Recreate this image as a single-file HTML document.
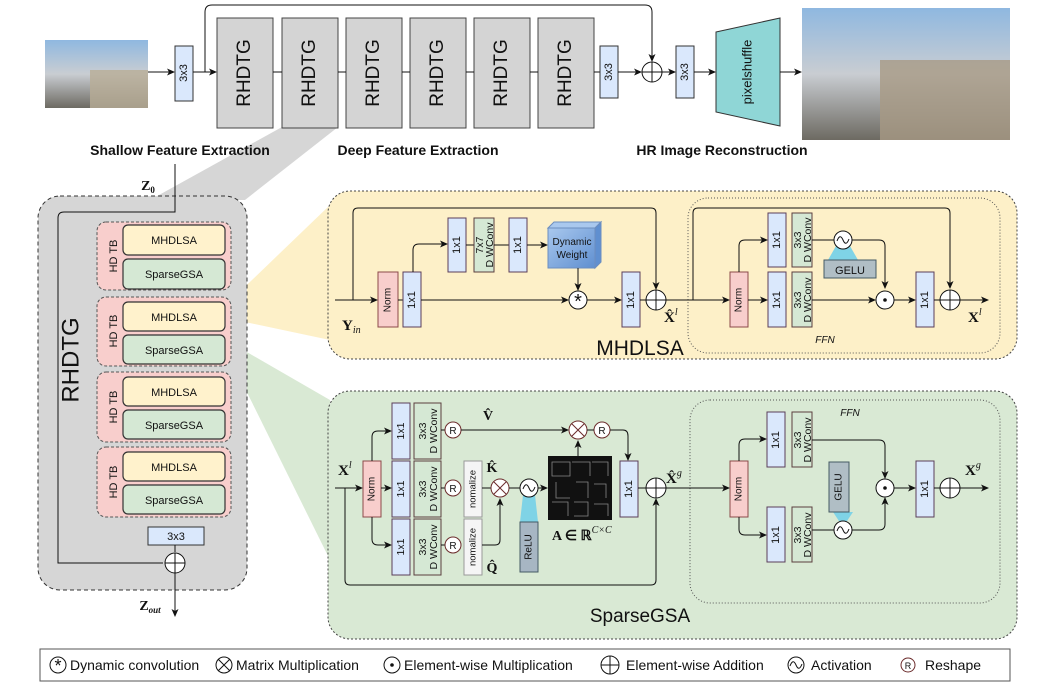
<!DOCTYPE html>
<html><head><meta charset="utf-8"><style>
html,body{margin:0;padding:0;background:#fff;width:1053px;height:692px;overflow:hidden}
svg text{font-family:"Liberation Sans",sans-serif;fill:#111}
.m{font-family:"Liberation Serif",serif;font-weight:bold}
</style></head><body>
<svg width="1053" height="692" viewBox="0 0 1053 692" xmlns="http://www.w3.org/2000/svg">
<defs>
<marker id="a" markerWidth="8" markerHeight="8" refX="7" refY="4" orient="auto" markerUnits="userSpaceOnUse"><path d="M0,0.5 L8,4 L0,7.5 L2,4 Z" fill="#111"/></marker>
<linearGradient id="sky" x1="0" y1="0" x2="0" y2="1"><stop offset="0" stop-color="#8fb8e0"/><stop offset="0.5" stop-color="#c9cdd2"/><stop offset="1" stop-color="#6d6a62"/></linearGradient>
<linearGradient id="cube" x1="0" y1="0" x2="1" y2="1"><stop offset="0" stop-color="#a9c8ee"/><stop offset="1" stop-color="#5f8fd0"/></linearGradient>
</defs>

<!-- wedges -->
<polygon points="282,127 338,127 245,200 150,200" fill="#d6d6d6"/>
<polygon points="226,318 226,305 330,205 330,340" fill="#fdf0c8"/>
<polygon points="226,350 226,340 330,400 330,560" fill="#d9e9d4"/>

<!-- top row -->
<rect x="45" y="40" width="103" height="68" fill="url(#sky)"/>
<rect x="90" y="70" width="58" height="38" fill="#b8ad96" opacity="0.8"/>
<rect x="802" y="8" width="208" height="132" fill="url(#sky)"/>
<rect x="880" y="60" width="130" height="80" fill="#a89a84" opacity="0.8"/>
<line x1="148" y1="72" x2="174" y2="72" stroke="#111" marker-end="url(#a)"/>
<rect x="175" y="46" width="18" height="55" fill="#dae8fc" stroke="#333"/>
<text x="184" y="73" font-size="11" text-anchor="middle" transform="rotate(-90 184 73)" dominant-baseline="middle">3x3</text>
<line x1="193" y1="72" x2="216" y2="72" stroke="#111" marker-end="url(#a)"/>
<path d="M205,72 V12 Q205,5 212,5 H645 Q652,5 652,12 V61" fill="none" stroke="#111" marker-end="url(#a)"/>
<g fill="#d4d4d4" stroke="#444">
<rect x="217" y="18" width="56" height="110"/><rect x="282" y="18" width="56" height="110"/>
<rect x="346" y="18" width="56" height="110"/><rect x="410" y="18" width="56" height="110"/>
<rect x="474" y="18" width="56" height="110"/><rect x="538" y="18" width="56" height="110"/>
</g>
<g stroke="#111"><line x1="273" y1="72" x2="282" y2="72"/><line x1="338" y1="72" x2="346" y2="72"/><line x1="402" y1="72" x2="410" y2="72"/><line x1="466" y1="72" x2="474" y2="72"/><line x1="530" y1="72" x2="538" y2="72"/><line x1="594" y1="72" x2="600" y2="72"/></g>
<g font-size="19"><text x="245" y="73" text-anchor="middle" dominant-baseline="middle" transform="rotate(-90 245 73)">RHDTG</text>
<text x="310" y="73" text-anchor="middle" dominant-baseline="middle" transform="rotate(-90 310 73)">RHDTG</text>
<text x="374" y="73" text-anchor="middle" dominant-baseline="middle" transform="rotate(-90 374 73)">RHDTG</text>
<text x="438" y="73" text-anchor="middle" dominant-baseline="middle" transform="rotate(-90 438 73)">RHDTG</text>
<text x="502" y="73" text-anchor="middle" dominant-baseline="middle" transform="rotate(-90 502 73)">RHDTG</text>
<text x="566" y="73" text-anchor="middle" dominant-baseline="middle" transform="rotate(-90 566 73)">RHDTG</text></g>
<rect x="600" y="46" width="18" height="52" fill="#dae8fc" stroke="#333"/>
<text x="609" y="72" font-size="11" text-anchor="middle" dominant-baseline="middle" transform="rotate(-90 609 72)">3x3</text>
<line x1="618" y1="72" x2="641" y2="72" stroke="#111" marker-end="url(#a)"/>
<circle cx="652" cy="72" r="10" fill="#fff" stroke="#111"/><path d="M642,72 H662 M652,62 V82" stroke="#111"/>
<line x1="662" y1="72" x2="675" y2="72" stroke="#111" marker-end="url(#a)"/>
<rect x="676" y="46" width="18" height="52" fill="#dae8fc" stroke="#333"/>
<text x="685" y="72" font-size="11" text-anchor="middle" dominant-baseline="middle" transform="rotate(-90 685 72)">3x3</text>
<line x1="694" y1="72" x2="715" y2="72" stroke="#111" marker-end="url(#a)"/>
<polygon points="716,32 780,18 780,126 716,112" fill="#8fd6d6" stroke="#333"/>
<text x="748" y="72" font-size="13" text-anchor="middle" dominant-baseline="middle" transform="rotate(-90 748 72)">pixelshuffle</text>
<line x1="780" y1="72" x2="801" y2="72" stroke="#111" marker-end="url(#a)"/>
<g font-size="14" font-weight="bold" text-anchor="middle"><text x="180" y="155">Shallow Feature Extraction</text><text x="418" y="155">Deep Feature Extraction</text><text x="722" y="155">HR Image Reconstruction</text></g>

<!-- left panel -->
<rect x="38" y="196" width="209" height="394" rx="22" fill="#d6d6d6" stroke="#333" stroke-dasharray="4,3"/>
<text x="148" y="190" class="m" font-size="14" text-anchor="middle">Z<tspan font-size="9" dy="3">0</tspan></text>
<path d="M175,164 V212 H64 Q58,212 58,218 V563 H163" fill="none" stroke="#111"/>
<g>
<rect x="97" y="222" width="134" height="68" rx="9" fill="#f8cecc" stroke="#555" stroke-dasharray="3,2"/>
<rect x="97" y="297" width="134" height="69" rx="9" fill="#f8cecc" stroke="#555" stroke-dasharray="3,2"/>
<rect x="97" y="372" width="134" height="70" rx="9" fill="#f8cecc" stroke="#555" stroke-dasharray="3,2"/>
<rect x="97" y="447" width="134" height="70" rx="9" fill="#f8cecc" stroke="#555" stroke-dasharray="3,2"/>
</g>
<g stroke="#333" stroke-width="1.2">
<rect x="123" y="225" width="102" height="30" rx="5" fill="#fff2cc"/><rect x="123" y="259" width="102" height="30" rx="5" fill="#d5e8d4"/>
<rect x="123" y="302" width="102" height="29" rx="5" fill="#fff2cc"/><rect x="123" y="335" width="102" height="29" rx="5" fill="#d5e8d4"/>
<rect x="123" y="377" width="102" height="29" rx="5" fill="#fff2cc"/><rect x="123" y="410" width="102" height="29" rx="5" fill="#d5e8d4"/>
<rect x="123" y="452" width="102" height="29" rx="5" fill="#fff2cc"/><rect x="123" y="485" width="102" height="29" rx="5" fill="#d5e8d4"/>
</g>
<g font-size="11" text-anchor="middle"><text x="174" y="244">MHDLSA</text><text x="174" y="278">SparseGSA</text>
<text x="174" y="321">MHDLSA</text><text x="174" y="354">SparseGSA</text>
<text x="174" y="396">MHDLSA</text><text x="174" y="429">SparseGSA</text>
<text x="174" y="471">MHDLSA</text><text x="174" y="504">SparseGSA</text>
<text x="114" y="256" transform="rotate(-90 114 256)" dominant-baseline="middle">HD TB</text>
<text x="114" y="331" transform="rotate(-90 114 331)" dominant-baseline="middle">HD TB</text>
<text x="114" y="407" transform="rotate(-90 114 407)" dominant-baseline="middle">HD TB</text>
<text x="114" y="482" transform="rotate(-90 114 482)" dominant-baseline="middle">HD TB</text></g>
<text x="72" y="360" font-size="24" text-anchor="middle" dominant-baseline="middle" transform="rotate(-90 72 360)">RHDTG</text>
<rect x="148" y="527" width="56" height="18" fill="#dae8fc" stroke="#333"/>
<text x="176" y="540" font-size="11" text-anchor="middle">3x3</text>
<line x1="175" y1="545" x2="175" y2="552" stroke="#111"/>
<circle cx="175" cy="563" r="10" fill="#fff" stroke="#111"/><path d="M165,563 H185 M175,553 V573" stroke="#111"/>
<line x1="175" y1="573" x2="175" y2="616" stroke="#111" marker-end="url(#a)"/>
<text x="150" y="610" class="m" font-size="14" text-anchor="middle">Z<tspan font-size="9" dy="3" font-style="italic">out</tspan></text>

<!-- yellow panel -->
<rect x="328" y="191" width="689" height="168" rx="22" fill="#fdf0c8" stroke="#444" stroke-dasharray="2,2"/>
<rect x="688" y="198" width="312" height="155" rx="20" fill="none" stroke="#555" stroke-dasharray="1,2"/>
<path d="M335,300 H377" stroke="#111" marker-end="url(#a)"/>
<path d="M353,300 V213 Q353,208 358,208 H651 Q656,208 656,213 V289" fill="none" stroke="#111" marker-end="url(#a)"/>
<rect x="378" y="272" width="20" height="55" fill="#f8cecc" stroke="#8b4a4a"/>
<text x="388" y="300" font-size="10" text-anchor="middle" dominant-baseline="middle" transform="rotate(-90 388 300)">Norm</text>
<line x1="398" y1="300" x2="403" y2="300" stroke="#111"/>
<rect x="403" y="272" width="18" height="55" fill="#dae8fc" stroke="#5a3e5a"/>
<text x="412" y="300" font-size="11" text-anchor="middle" dominant-baseline="middle" transform="rotate(-90 412 300)">1x1</text>
<path d="M413,272 V250 Q413,244 419,244 H447" fill="none" stroke="#111" marker-end="url(#a)"/>
<rect x="448" y="218" width="18" height="54" fill="#dae8fc" stroke="#5a3e5a"/>
<text x="457" y="245" font-size="11" text-anchor="middle" dominant-baseline="middle" transform="rotate(-90 457 245)">1x1</text>
<line x1="466" y1="245" x2="474" y2="245" stroke="#111"/>
<rect x="474" y="218" width="20" height="54" fill="#d5e8d4" stroke="#5a3e3e"/>
<text x="484" y="245" font-size="10.5" text-anchor="middle" transform="rotate(-90 484 245)"><tspan x="484" dy="-1">7x7</tspan><tspan x="484" dy="10">D WConv</tspan></text>
<line x1="494" y1="245" x2="509" y2="245" stroke="#111"/>
<rect x="509" y="218" width="18" height="54" fill="#dae8fc" stroke="#5a3e5a"/>
<text x="518" y="245" font-size="11" text-anchor="middle" dominant-baseline="middle" transform="rotate(-90 518 245)">1x1</text>
<line x1="527" y1="245" x2="547" y2="245" stroke="#111" marker-end="url(#a)"/>
<polygon points="548,228 554,222 601,222 595,228" fill="#a9c8ee" stroke="#6c8ebf"/>
<polygon points="595,228 601,222 601,262 595,268" fill="#5f8fd0" stroke="#6c8ebf"/>
<rect x="548" y="228" width="47" height="40" fill="url(#cube)" stroke="#6c8ebf"/>
<text x="572" y="245" font-size="10" text-anchor="middle">Dynamic</text><text x="572" y="258" font-size="10" text-anchor="middle">Weight</text>
<line x1="578" y1="268" x2="578" y2="290" stroke="#111" marker-end="url(#a)"/>
<line x1="421" y1="300" x2="568" y2="300" stroke="#111" marker-end="url(#a)"/>
<circle cx="578" cy="300" r="9" fill="#fff" stroke="#111"/><text x="578" y="308" font-size="20" text-anchor="middle">*</text>
<line x1="587" y1="300" x2="621" y2="300" stroke="#111" marker-end="url(#a)"/>
<rect x="622" y="272" width="18" height="55" fill="#dae8fc" stroke="#5a3e5a"/>
<text x="631" y="300" font-size="11" text-anchor="middle" dominant-baseline="middle" transform="rotate(-90 631 300)">1x1</text>
<line x1="640" y1="300" x2="646" y2="300" stroke="#111"/>
<circle cx="656" cy="300" r="10" fill="#fff" stroke="#111"/><path d="M646,300 H666 M656,290 V310" stroke="#111"/>
<text x="342" y="330" class="m" font-size="15">Y<tspan font-size="10" dy="3" font-style="italic" font-weight="normal">in</tspan></text>
<text x="664" y="322" class="m" font-size="15">X̂<tspan font-size="10" dy="-7" font-style="italic" font-weight="normal">l</tspan></text>
<text x="640" y="355" font-size="21" text-anchor="middle">MHDLSA</text>
<!-- yellow FFN -->
<line x1="666" y1="300" x2="729" y2="300" stroke="#111" marker-end="url(#a)"/>
<path d="M693,300 V213 Q693,208 698,208 H945 Q950,208 950,213 V288" fill="none" stroke="#111" marker-end="url(#a)"/>
<rect x="730" y="272" width="18" height="55" fill="#f8cecc" stroke="#8b4a4a"/>
<text x="739" y="300" font-size="10" text-anchor="middle" dominant-baseline="middle" transform="rotate(-90 739 300)">Norm</text>
<path d="M739,272 V246 Q739,240 745,240 H767" fill="none" stroke="#111" marker-end="url(#a)"/>
<line x1="748" y1="300" x2="767" y2="300" stroke="#111" marker-end="url(#a)"/>
<rect x="768" y="213" width="18" height="54" fill="#dae8fc" stroke="#5a3e5a"/>
<text x="777" y="240" font-size="11" text-anchor="middle" dominant-baseline="middle" transform="rotate(-90 777 240)">1x1</text>
<rect x="792" y="213" width="20" height="54" fill="#d5e8d4" stroke="#5a3e3e"/>
<text x="802" y="240" font-size="10.5" text-anchor="middle" transform="rotate(-90 802 240)"><tspan x="802" dy="-1">3x3</tspan><tspan x="802" dy="10">D WConv</tspan></text>
<rect x="768" y="272" width="18" height="55" fill="#dae8fc" stroke="#5a3e5a"/>
<text x="777" y="300" font-size="11" text-anchor="middle" dominant-baseline="middle" transform="rotate(-90 777 300)">1x1</text>
<rect x="792" y="272" width="20" height="55" fill="#d5e8d4" stroke="#5a3e3e"/>
<text x="802" y="300" font-size="10.5" text-anchor="middle" transform="rotate(-90 802 300)"><tspan x="802" dy="-1">3x3</tspan><tspan x="802" dy="10">D WConv</tspan></text>
<polygon points="836,246 850,246 858,260 828,260" fill="#7fd3e6"/>
<rect x="824" y="260" width="52" height="18" fill="#b0bec5" stroke="#455a64"/>
<text x="850" y="274" font-size="11" text-anchor="middle">GELU</text>
<line x1="812" y1="240" x2="834" y2="240" stroke="#111"/>
<circle cx="843" cy="240" r="9" fill="#fff" stroke="#111"/><path d="M837,241 Q840,233 843,240 Q846,247 849,239" fill="none" stroke="#111"/>
<path d="M852,240 H879 Q885,240 885,246 V288" fill="none" stroke="#111" marker-end="url(#a)"/>
<line x1="812" y1="300" x2="875" y2="300" stroke="#111" marker-end="url(#a)"/>
<circle cx="885" cy="300" r="9" fill="#fff" stroke="#111"/><circle cx="885" cy="300" r="1.8" fill="#111"/>
<line x1="894" y1="300" x2="915" y2="300" stroke="#111" marker-end="url(#a)"/>
<rect x="916" y="272" width="18" height="55" fill="#dae8fc" stroke="#5a3e5a"/>
<text x="925" y="300" font-size="11" text-anchor="middle" dominant-baseline="middle" transform="rotate(-90 925 300)">1x1</text>
<line x1="934" y1="300" x2="940" y2="300" stroke="#111"/>
<circle cx="950" cy="300" r="10" fill="#fff" stroke="#111"/><path d="M940,300 H960 M950,290 V310" stroke="#111"/>
<line x1="960" y1="300" x2="988" y2="300" stroke="#111" marker-end="url(#a)"/>
<text x="968" y="322" class="m" font-size="15">X<tspan font-size="10" dy="-7" font-style="italic" font-weight="normal">l</tspan></text>
<text x="825" y="343" font-size="10" font-style="italic" text-anchor="middle" font-family="Liberation Serif">FFN</text>

<!-- green panel -->
<rect x="328" y="391" width="689" height="248" rx="22" fill="#d9e9d4" stroke="#444" stroke-dasharray="2,2"/>
<rect x="690" y="400" width="310" height="203" rx="20" fill="none" stroke="#555" stroke-dasharray="1,2"/>
<text x="338" y="475" class="m" font-size="15">X<tspan font-size="10" dy="-7" font-style="italic" font-weight="normal">l</tspan></text>
<line x1="335" y1="488" x2="362" y2="488" stroke="#111" marker-end="url(#a)"/>
<path d="M345,488 V580 Q345,585 350,585 H651 Q656,585 656,580 V499" fill="none" stroke="#111" marker-end="url(#a)"/>
<rect x="363" y="461" width="18" height="56" fill="#f8cecc" stroke="#8b4a4a"/>
<text x="372" y="489" font-size="10" text-anchor="middle" dominant-baseline="middle" transform="rotate(-90 372 489)">Norm</text>
<path d="M372,461 V437 Q372,431 378,431 H391" fill="none" stroke="#111" marker-end="url(#a)"/>
<path d="M372,517 V539 Q372,545 378,545 H391" fill="none" stroke="#111" marker-end="url(#a)"/>
<line x1="381" y1="488" x2="391" y2="488" stroke="#111" marker-end="url(#a)"/>
<g fill="#dae8fc" stroke="#5a3e5a"><rect x="392" y="403" width="18" height="56"/><rect x="392" y="461" width="18" height="56"/><rect x="392" y="519" width="18" height="56"/></g>
<g fill="#d5e8d4" stroke="#5a3e3e"><rect x="414" y="403" width="27" height="56"/><rect x="414" y="461" width="27" height="56"/><rect x="414" y="519" width="27" height="56"/></g>
<g font-size="10.5" text-anchor="middle">
<text x="401" y="431" dominant-baseline="middle" transform="rotate(-90 401 431)">1x1</text>
<text x="401" y="489" dominant-baseline="middle" transform="rotate(-90 401 489)">1x1</text>
<text x="401" y="547" dominant-baseline="middle" transform="rotate(-90 401 547)">1x1</text>
<text x="427" y="431" transform="rotate(-90 427 431)"><tspan x="427" dy="-1">3x3</tspan><tspan x="427" dy="11">D WConv</tspan></text>
<text x="427" y="489" transform="rotate(-90 427 489)"><tspan x="427" dy="-1">3x3</tspan><tspan x="427" dy="11">D WConv</tspan></text>
<text x="427" y="547" transform="rotate(-90 427 547)"><tspan x="427" dy="-1">3x3</tspan><tspan x="427" dy="11">D WConv</tspan></text>
</g>
<g stroke="#111"><line x1="441" y1="430" x2="445" y2="430"/><line x1="441" y1="488" x2="445" y2="488"/><line x1="441" y1="545" x2="445" y2="545"/></g>
<g fill="#fff" stroke="#6b2b2b"><circle cx="453" cy="430" r="8"/><circle cx="453" cy="488" r="8"/><circle cx="453" cy="545" r="8"/><circle cx="602" cy="430" r="8"/></g>
<g font-size="10" text-anchor="middle"><text x="453" y="434">R</text><text x="453" y="492">R</text><text x="453" y="549">R</text><text x="602" y="434">R</text></g>
<line x1="461" y1="430" x2="568" y2="430" stroke="#111" marker-end="url(#a)"/>
<text x="488" y="420" class="m" font-size="14" text-anchor="middle">V̂</text>
<g fill="#f5f5f5" stroke="#999"><rect x="464" y="461" width="18" height="56"/><rect x="464" y="519" width="18" height="56"/></g>
<text x="473" y="489" font-size="9.5" text-anchor="middle" dominant-baseline="middle" transform="rotate(-90 473 489)">nomalize</text>
<text x="473" y="547" font-size="9.5" text-anchor="middle" dominant-baseline="middle" transform="rotate(-90 473 547)">nomalize</text>
<text x="492" y="472" class="m" font-size="14" text-anchor="middle">K̂</text>
<text x="492" y="572" class="m" font-size="14" text-anchor="middle">Q̂</text>
<line x1="482" y1="488" x2="491" y2="488" stroke="#111"/>
<path d="M482,545 H495 Q500,545 500,540 V499" fill="none" stroke="#111" marker-end="url(#a)"/>
<circle cx="500" cy="488" r="9" fill="#fff" stroke="#6b2b2b"/><path d="M494,482 L506,494 M506,482 L494,494" stroke="#6b2b2b"/>
<line x1="509" y1="488" x2="520" y2="488" stroke="#111"/>
<polygon points="523,495 535,495 538,522 520,522" fill="#7fd3e6"/>
<rect x="520" y="522" width="18" height="50" fill="#a7b6c3" stroke="#455a64"/>
<text x="529" y="547" font-size="10" text-anchor="middle" dominant-baseline="middle" transform="rotate(-90 529 547)">ReLU</text>
<circle cx="529" cy="488" r="9" fill="#fff" stroke="#111"/><path d="M523,489 Q526,481 529,488 Q532,495 535,487" fill="none" stroke="#111"/>
<line x1="538" y1="488" x2="547" y2="488" stroke="#111" marker-end="url(#a)"/>
<rect x="548" y="456" width="64" height="64" fill="#111"/>
<g stroke="#888" stroke-width="0.8" fill="none"><path d="M552,462 h18 v14 h-18z M572,462 h18 v14 M592,462 h16 v14 M556,482 v16 h14 M576,482 h12 v16 M594,484 h12 v14 M552,502 h16 v14 M574,502 h14 v14 h-14 M594,504 h14 v12"/></g>
<line x1="578" y1="456" x2="578" y2="441" stroke="#111" marker-end="url(#a)"/>
<circle cx="578" cy="430" r="9" fill="#fff" stroke="#6b2b2b"/><path d="M572,424 L584,436 M584,424 L572,436" stroke="#6b2b2b"/>
<line x1="587" y1="430" x2="594" y2="430" stroke="#111"/>
<path d="M610,430 H623 Q628,430 628,436 V460" fill="none" stroke="#111" marker-end="url(#a)"/>
<text x="552" y="540" class="m" font-size="14">A ∈ ℝ<tspan font-size="10" dy="-7" font-style="italic" font-weight="normal">C×C</tspan></text>
<rect x="620" y="461" width="18" height="56" fill="#dae8fc" stroke="#5a3e5a"/>
<text x="629" y="489" font-size="11" text-anchor="middle" dominant-baseline="middle" transform="rotate(-90 629 489)">1x1</text>
<line x1="638" y1="488" x2="646" y2="488" stroke="#111"/>
<circle cx="656" cy="488" r="10" fill="#fff" stroke="#111"/><path d="M646,488 H666 M656,478 V498" stroke="#111"/>
<text x="666" y="483" class="m" font-size="15">X̂<tspan font-size="10" dy="-7" font-style="italic" font-weight="normal">g</tspan></text>
<text x="640" y="622" font-size="19" text-anchor="middle">SparseGSA</text>
<!-- green FFN -->
<line x1="666" y1="488" x2="729" y2="488" stroke="#111" marker-end="url(#a)"/>
<rect x="730" y="461" width="18" height="56" fill="#f8cecc" stroke="#8b4a4a"/>
<text x="739" y="489" font-size="10" text-anchor="middle" dominant-baseline="middle" transform="rotate(-90 739 489)">Norm</text>
<path d="M739,461 V445 Q739,439 745,439 H766" fill="none" stroke="#111" marker-end="url(#a)"/>
<path d="M739,517 V529 Q739,535 745,535 H766" fill="none" stroke="#111" marker-end="url(#a)"/>
<rect x="767" y="412" width="18" height="55" fill="#dae8fc" stroke="#5a3e5a"/>
<text x="776" y="440" font-size="11" text-anchor="middle" dominant-baseline="middle" transform="rotate(-90 776 440)">1x1</text>
<rect x="792" y="412" width="20" height="55" fill="#d5e8d4" stroke="#5a3e3e"/>
<text x="802" y="440" font-size="10.5" text-anchor="middle" transform="rotate(-90 802 440)"><tspan x="802" dy="-1">3x3</tspan><tspan x="802" dy="10">D WConv</tspan></text>
<rect x="767" y="507" width="18" height="55" fill="#dae8fc" stroke="#5a3e5a"/>
<text x="776" y="535" font-size="11" text-anchor="middle" dominant-baseline="middle" transform="rotate(-90 776 535)">1x1</text>
<rect x="792" y="507" width="20" height="55" fill="#d5e8d4" stroke="#5a3e3e"/>
<text x="802" y="535" font-size="10.5" text-anchor="middle" transform="rotate(-90 802 535)"><tspan x="802" dy="-1">3x3</tspan><tspan x="802" dy="10">D WConv</tspan></text>
<path d="M812,440 H879 Q885,440 885,446 V478" fill="none" stroke="#111" marker-end="url(#a)"/>
<polygon points="833,512 853,512 847,521 839,521" fill="#7fd3e6"/>
<rect x="829" y="462" width="20" height="50" fill="#b0bec5" stroke="#455a64"/>
<text x="839" y="487" font-size="10" text-anchor="middle" dominant-baseline="middle" transform="rotate(-90 839 487)">GELU</text>
<line x1="812" y1="530" x2="834" y2="530" stroke="#111"/>
<circle cx="843" cy="530" r="9" fill="#fff" stroke="#111"/><path d="M837,531 Q840,523 843,530 Q846,537 849,529" fill="none" stroke="#111"/>
<path d="M852,530 H879 Q885,530 885,524 V498" fill="none" stroke="#111" marker-end="url(#a)"/>
<circle cx="885" cy="488" r="9" fill="#fff" stroke="#111"/><circle cx="885" cy="488" r="1.8" fill="#111"/>
<line x1="894" y1="488" x2="915" y2="488" stroke="#111" marker-end="url(#a)"/>
<rect x="916" y="461" width="18" height="56" fill="#dae8fc" stroke="#5a3e5a"/>
<text x="925" y="489" font-size="11" text-anchor="middle" dominant-baseline="middle" transform="rotate(-90 925 489)">1x1</text>
<line x1="934" y1="488" x2="940" y2="488" stroke="#111"/>
<circle cx="950" cy="488" r="10" fill="#fff" stroke="#111"/><path d="M940,488 H960 M950,478 V498" stroke="#111"/>
<line x1="960" y1="488" x2="988" y2="488" stroke="#111" marker-end="url(#a)"/>
<text x="965" y="475" class="m" font-size="15">X<tspan font-size="10" dy="-7" font-style="italic" font-weight="normal">g</tspan></text>
<text x="850" y="416" font-size="10" font-style="italic" text-anchor="middle" font-family="Liberation Serif">FFN</text>

<!-- legend -->
<rect x="40" y="649" width="970" height="32" fill="#fff" stroke="#555"/>
<g font-size="14">
<circle cx="58" cy="665" r="8" fill="#fff" stroke="#111"/><text x="58" y="672" text-anchor="middle" font-size="18">*</text>
<text x="70" y="670">Dynamic convolution</text>
<circle cx="224" cy="665" r="8" fill="#fff" stroke="#111"/><path d="M218,659 L230,671 M230,659 L218,671" stroke="#111"/>
<text x="236" y="670">Matrix Multiplication</text>
<circle cx="392" cy="665" r="8" fill="#fff" stroke="#111"/><circle cx="392" cy="665" r="1.8" fill="#111"/>
<text x="404" y="670">Element-wise Multiplication</text>
<circle cx="610" cy="665" r="9" fill="#fff" stroke="#111"/><path d="M601,665 H619 M610,656 V674" stroke="#111"/>
<text x="626" y="670">Element-wise Addition</text>
<circle cx="796" cy="665" r="8" fill="#fff" stroke="#111"/><path d="M790,666 Q793,658 796,665 Q799,672 802,664" fill="none" stroke="#111"/>
<text x="811" y="670">Activation</text>
<circle cx="908" cy="665" r="7" fill="#fff" stroke="#6b2b2b"/><text x="908" y="669" font-size="9" text-anchor="middle">R</text>
<text x="925" y="670">Reshape</text>
</g>
</svg>
</body></html>
